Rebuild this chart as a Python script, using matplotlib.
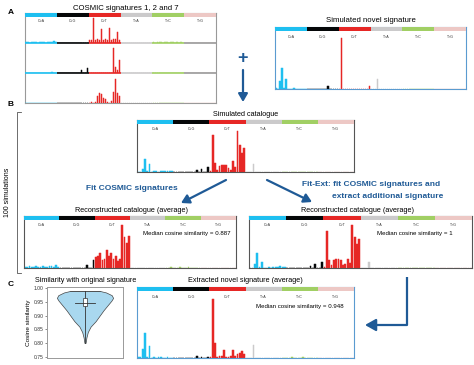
import numpy as np
import matplotlib
matplotlib.use("Agg")
import matplotlib.pyplot as plt
from matplotlib.patches import Rectangle
import matplotlib.transforms as mtrans

plt.rcParams['font.family'] = ['Liberation Sans', 'DejaVu Sans']

# ---------------- data ----------------
groups = ["C>A", "C>G", "C>T", "T>A", "T>C", "T>G"]
group_colors = ["#1EBFF0", "#050708", "#E62725", "#CBCACB", "#A1CF64", "#EDC8C5"]

sig1 = [0.04, 0.03, 0.02, 0.03, 0.03, 0.03, 0.02, 0.03, 0.03, 0.03, 0.02, 0.03, 0.04, 0.04, 0.08, 0.05,
        0.01, 0.01, 0.01, 0.01, 0.01, 0.01, 0.01, 0.01, 0.01, 0.01, 0.01, 0.01, 0.01, 0.01, 0.01, 0.01,
        0.14, 0.12, 1.00, 0.13, 0.15, 0.12, 0.55, 0.14, 0.15, 0.13, 0.60, 0.14, 0.16, 0.15, 0.45, 0.14,
        0.01, 0.01, 0.01, 0.01, 0.01, 0.01, 0.01, 0.01, 0.01, 0.01, 0.01, 0.01, 0.01, 0.01, 0.01, 0.01,
        0.03, 0.02, 0.04, 0.03, 0.03, 0.02, 0.04, 0.03, 0.02, 0.03, 0.03, 0.02, 0.03, 0.02, 0.03, 0.02,
        0.01, 0.01, 0.01, 0.01, 0.01, 0.01, 0.01, 0.01, 0.01, 0.01, 0.01, 0.01, 0.01, 0.01, 0.01, 0.01]

sig2 = [0.01, 0.01, 0.01, 0.01, 0.01, 0.01, 0.01, 0.01, 0.01, 0.01, 0.01, 0.01, 0.01, 0.03, 0.01, 0.01,
        0.00, 0.00, 0.00, 0.00, 0.00, 0.00, 0.00, 0.00, 0.00, 0.00, 0.00, 0.00, 0.14, 0.01, 0.01, 0.19,
        0.02, 0.01, 0.01, 0.01, 0.01, 0.01, 0.01, 0.01, 0.01, 0.01, 0.01, 0.01, 1.00, 0.23, 0.13, 0.53,
        0.00, 0.00, 0.00, 0.00, 0.00, 0.00, 0.00, 0.00, 0.00, 0.00, 0.00, 0.00, 0.00, 0.00, 0.00, 0.00,
        0.00, 0.00, 0.00, 0.00, 0.00, 0.00, 0.00, 0.00, 0.00, 0.00, 0.00, 0.00, 0.00, 0.00, 0.00, 0.00,
        0.00, 0.00, 0.00, 0.00, 0.00, 0.00, 0.00, 0.00, 0.00, 0.00, 0.00, 0.00, 0.00, 0.00, 0.00, 0.00]

sig7 = [0.00, 0.00, 0.00, 0.00, 0.00, 0.00, 0.00, 0.00, 0.00, 0.00, 0.00, 0.00, 0.00, 0.00, 0.00, 0.00,
        0.00, 0.00, 0.00, 0.00, 0.00, 0.00, 0.00, 0.00, 0.00, 0.00, 0.00, 0.00, 0.00, 0.00, 0.00, 0.00,
        0.00, 0.06, 0.02, 0.03, 0.30, 0.40, 0.37, 0.20, 0.18, 0.04, 0.02, 0.10, 0.45, 1.00, 0.40, 0.28,
        0.00, 0.00, 0.00, 0.00, 0.00, 0.00, 0.00, 0.00, 0.00, 0.00, 0.00, 0.00, 0.00, 0.00, 0.00, 0.00,
        0.00, 0.00, 0.00, 0.00, 0.00, 0.00, 0.00, 0.00, 0.00, 0.00, 0.00, 0.00, 0.00, 0.00, 0.00, 0.00,
        0.00, 0.00, 0.00, 0.00, 0.00, 0.00, 0.00, 0.00, 0.00, 0.00, 0.00, 0.00, 0.00, 0.00, 0.00, 0.00]

novel_sig = [0.01, 0.00, 0.16, 0.42, 0.01, 0.20, 0.00, 0.00, 0.00, 0.01, 0.00, 0.00, 0.00, 0.00, 0.00, 0.00,
             0.00, 0.00, 0.00, 0.00, 0.00, 0.00, 0.00, 0.00, 0.00, 0.00, 0.05, 0.00, 0.00, 0.00, 0.00, 0.00,
             0.00, 1.00, 0.00, 0.00, 0.00, 0.00, 0.00, 0.00, 0.00, 0.00, 0.00, 0.00, 0.00, 0.00, 0.00, 0.06,
             0.00, 0.00, 0.00, 0.20, 0.00, 0.00, 0.00, 0.00, 0.00, 0.00, 0.00, 0.00, 0.00, 0.00, 0.00, 0.00,
             0.00, 0.00, 0.00, 0.00, 0.00, 0.00, 0.00, 0.00, 0.00, 0.00, 0.00, 0.00, 0.00, 0.00, 0.00, 0.00,
             0.00, 0.00, 0.00, 0.00, 0.00, 0.00, 0.00, 0.00, 0.00, 0.00, 0.00, 0.00, 0.00, 0.00, 0.00, 0.00]

simulated = [0.01, 0.01, 0.08, 0.33, 0.02, 0.20, 0.01, 0.02, 0.02, 0.01, 0.02, 0.03, 0.02, 0.03, 0.03, 0.02,
             0.00, 0.00, 0.00, 0.00, 0.00, 0.00, 0.00, 0.00, 0.00, 0.01, 0.04, 0.00, 0.08, 0.01, 0.00, 0.12,
             0.03, 0.92, 0.23, 0.05, 0.15, 0.18, 0.17, 0.17, 0.10, 0.06, 0.27, 0.12, 1.00, 0.67, 0.48, 0.58,
             0.01, 0.00, 0.01, 0.19, 0.00, 0.01, 0.00, 0.00, 0.01, 0.00, 0.00, 0.01, 0.00, 0.00, 0.01, 0.00,
             0.01, 0.01, 0.01, 0.01, 0.01, 0.01, 0.01, 0.01, 0.01, 0.01, 0.01, 0.01, 0.01, 0.01, 0.01, 0.01,
             0.00, 0.00, 0.00, 0.00, 0.00, 0.00, 0.00, 0.00, 0.00, 0.00, 0.00, 0.00, 0.00, 0.00, 0.00, 0.00]

recon_fit = [0.03, 0.02, 0.04, 0.03, 0.02, 0.05, 0.03, 0.02, 0.04, 0.03, 0.02, 0.05, 0.04, 0.03, 0.06, 0.03,
             0.01, 0.01, 0.01, 0.01, 0.01, 0.01, 0.01, 0.01, 0.01, 0.01, 0.01, 0.01, 0.08, 0.01, 0.01, 0.18,
             0.26, 0.27, 0.34, 0.19, 0.20, 0.42, 0.28, 0.35, 0.20, 0.28, 0.16, 0.22, 1.00, 0.72, 0.58, 0.74,
             0.01, 0.01, 0.01, 0.01, 0.01, 0.01, 0.01, 0.01, 0.01, 0.01, 0.01, 0.01, 0.01, 0.01, 0.01, 0.01,
             0.01, 0.01, 0.02, 0.01, 0.01, 0.01, 0.02, 0.01, 0.01, 0.01, 0.02, 0.01, 0.01, 0.01, 0.01, 0.01,
             0.00, 0.00, 0.00, 0.00, 0.00, 0.00, 0.00, 0.00, 0.00, 0.00, 0.00, 0.00, 0.00, 0.00, 0.00, 0.00]

recon_fitext = [0.01, 0.01, 0.10, 0.35, 0.02, 0.15, 0.01, 0.01, 0.02, 0.01, 0.02, 0.03, 0.02, 0.04, 0.02, 0.03,
                0.00, 0.00, 0.00, 0.00, 0.00, 0.00, 0.00, 0.00, 0.00, 0.01, 0.04, 0.00, 0.09, 0.01, 0.00, 0.13,
                0.03, 0.86, 0.18, 0.06, 0.18, 0.20, 0.20, 0.19, 0.08, 0.10, 0.20, 0.12, 1.00, 0.72, 0.57, 0.68,
                0.01, 0.00, 0.01, 0.14, 0.00, 0.01, 0.00, 0.00, 0.01, 0.00, 0.00, 0.01, 0.00, 0.00, 0.01, 0.00,
                0.01, 0.01, 0.01, 0.01, 0.01, 0.01, 0.01, 0.01, 0.01, 0.01, 0.01, 0.01, 0.01, 0.01, 0.01, 0.01,
                0.00, 0.00, 0.00, 0.00, 0.00, 0.00, 0.00, 0.00, 0.00, 0.00, 0.00, 0.00, 0.00, 0.00, 0.00, 0.00]

extracted = [0.01, 0.01, 0.155, 0.43, 0.01, 0.20, 0.00, 0.01, 0.00, 0.01, 0.01, 0.00, 0.00, 0.01, 0.00, 0.00,
             0.00, 0.00, 0.00, 0.00, 0.00, 0.00, 0.00, 0.00, 0.00, 0.00, 0.03, 0.00, 0.01, 0.00, 0.00, 0.01,
             0.02, 1.00, 0.26, 0.02, 0.03, 0.03, 0.14, 0.02, 0.02, 0.03, 0.14, 0.03, 0.06, 0.09, 0.12, 0.07,
             0.00, 0.00, 0.00, 0.22, 0.00, 0.00, 0.00, 0.00, 0.00, 0.00, 0.00, 0.00, 0.00, 0.00, 0.00, 0.00,
             0.00, 0.00, 0.00, 0.00, 0.01, 0.00, 0.00, 0.00, 0.00, 0.01, 0.00, 0.00, 0.00, 0.00, 0.00, 0.00,
             0.00, 0.00, 0.00, 0.00, 0.00, 0.00, 0.00, 0.00, 0.00, 0.00, 0.00, 0.00, 0.00, 0.00, 0.00, 0.00]

# violin outline (cosine similarity, relative half-width)
violin_y = [0.800, 0.820, 0.840, 0.860, 0.880, 0.900, 0.920, 0.940, 0.955, 0.965, 0.975, 0.985, 0.990]
violin_w = [0.02, 0.05, 0.10, 0.20, 0.38, 0.52, 0.66, 0.82, 0.94, 1.00, 0.95, 0.75, 0.55]
box_stats = {"whislo": 0.800, "q1": 0.935, "med": 0.948, "q3": 0.966, "whishi": 0.990}
violin_ticks = [0.75, 0.80, 0.85, 0.90, 0.95, 1.00]

median_fit = "0.887"
median_fitext = "1"
median_extracted = "0.948"

# ---------------- layout helpers ----------------
W, H = 474, 365
fig = plt.figure(figsize=(W / 100, H / 100), dpi=100)
ov = fig.add_axes([0, 0, 1, 1])
ov.set_xlim(0, W)
ov.set_ylim(H, 0)
ov.axis("off")

ARROW = "#1F5A96"
BLUE_FRAME = "#5A9BD0"


def px_axes(x0, y0, x1, y1):
    return fig.add_axes([x0 / W, 1 - y1 / H, (x1 - x0) / W, (y1 - y0) / H])


bar_colors = [c for c in group_colors for _ in range(16)]


def draw_bars(ax, vals):
    ax.bar(np.arange(96), vals, width=0.8, color=bar_colors, edgecolor=bar_colors, lw=0.35)


def header(ax, bar_h=0.07, lab_y=None, lab_fs=2.6):
    tr = mtrans.blended_transform_factory(ax.transData, ax.transAxes)
    for g, (name, col) in enumerate(zip(groups, group_colors)):
        ax.add_patch(Rectangle((16 * g - 0.5, 1 - bar_h), 16, bar_h, transform=tr,
                               color=col, lw=0, clip_on=False, zorder=5))
        ax.text(16 * g + 7.5, lab_y if lab_y is not None else 1 - bar_h - 0.06, name,
                transform=tr, ha="center", va="top", fontsize=lab_fs, color="#333333")


def frame(ax, col, lw=0.8):
    for s in ax.spines.values():
        s.set_color(col)
        s.set_linewidth(lw)
    ax.set_xticks([])
    ax.set_yticks([])


def sig_panel(ax, vals, peak_frac, frame_col, bar_h=0.07):
    draw_bars(ax, vals)
    ax.set_xlim(-0.5, 95.5)
    ax.set_ylim(0, max(vals) / peak_frac)
    frame(ax, frame_col)
    header(ax, bar_h=bar_h)


# ---------------- Panel A ----------------
axA = px_axes(25, 13, 216, 103)
axA.set_xlim(-0.5, 95.5)
axA.set_ylim(0, 1)
frame(axA, "#999999")
header(axA, bar_h=0.04, lab_y=0.93)

rows = [(sig1, 13, 43, 0.83, True), (sig2, 43, 73, 0.82, True), (sig7, 73, 103, 0.80, False)]
for vals, y0, y1, pf, base in rows:
    a = px_axes(25, y0, 216, y1)
    a.patch.set_alpha(0)
    draw_bars(a, vals)
    a.set_xlim(-0.5, 95.5)
    a.set_ylim(0, max(vals) / pf)
    a.axis("off")
    if base:
        for g, col in enumerate(group_colors):
            a.plot([16 * g - 0.5, 16 * g + 15.5], [0, 0], color=col if col != "#EDC8C5" else "#999999",
                   lw=1.2, solid_capstyle="butt", clip_on=False)

ov.text(8, 12, "A", fontsize=6, fontweight="bold", ha="left", va="center")
ov.text(126, 8, "COSMIC signatures 1, 2 and 7", fontsize=5.6, ha="center", va="center")

# novel signature
axN = px_axes(275, 27, 466, 89)
sig_panel(axN, novel_sig, 0.82, BLUE_FRAME)
ov.text(371, 21, "Simulated novel signature", fontsize=5.6, ha="center", va="center")

# plus and down arrow
ov.text(243, 58, "+", fontsize=13, fontweight="bold", color=ARROW, ha="center", va="center")
ov.annotate("", xy=(243, 102), xytext=(243, 70),
            arrowprops=dict(arrowstyle="-|>,head_width=0.35,head_length=0.6", lw=1.6,
                            color=ARROW, mutation_scale=8, shrinkA=0, shrinkB=0))

# ---------------- Panel B ----------------
ov.text(8, 104, "B", fontsize=6, fontweight="bold", ha="left", va="center")
ov.plot([21, 17, 17, 21], [112, 112, 273, 273], color="#555555", lw=0.6)
ov.text(8, 192, "100 simulations", fontsize=5, rotation=90, ha="center", va="center")

axS = px_axes(137, 120, 354, 172)
sig_panel(axS, simulated, 0.78, "#555555")
ov.text(246, 114, "Simulated catalogue", fontsize=5.2, ha="center", va="center")

ov.annotate("", xy=(181, 203), xytext=(226, 180),
            arrowprops=dict(arrowstyle="-|>,head_width=0.35,head_length=0.6", lw=1.6,
                            color=ARROW, mutation_scale=8, shrinkA=0, shrinkB=0))
ov.annotate("", xy=(312, 202), xytext=(267, 180),
            arrowprops=dict(arrowstyle="-|>,head_width=0.35,head_length=0.6", lw=1.6,
                            color=ARROW, mutation_scale=8, shrinkA=0, shrinkB=0))
ov.text(132, 189, "Fit COSMIC signatures", fontsize=6, fontweight="bold", color=ARROW,
        ha="center", va="center")
ov.text(371, 185, "Fit-Ext: fit COSMIC signatures and", fontsize=6, fontweight="bold",
        color=ARROW, ha="center", va="center")
ov.text(443, 196, "extract additional signature", fontsize=6, fontweight="bold",
        color=ARROW, ha="right", va="center")

axL = px_axes(24, 216, 236, 268)
sig_panel(axL, recon_fit, 0.83, "#555555")
axL.text(0.77, 0.66, "Median cosine similarity = " + median_fit, transform=axL.transAxes,
         fontsize=4.4, ha="center", va="center")
ov.text(132, 210, "Reconstructed catalogue (average)", fontsize=5.2, ha="center", va="center")

axR = px_axes(249, 216, 472, 268)
sig_panel(axR, recon_fitext, 0.82, "#555555")
axR.text(0.745, 0.66, "Median cosine similarity = " + median_fitext, transform=axR.transAxes,
         fontsize=4.4, ha="center", va="center")
ov.text(358, 210, "Reconstructed catalogue (average)", fontsize=5.2, ha="center", va="center")

# elbow arrow
ov.plot([407, 407, 374], [277, 325, 325], color=ARROW, lw=1.6, solid_capstyle="butt")
ov.annotate("", xy=(365, 325), xytext=(376, 325),
            arrowprops=dict(arrowstyle="-|>,head_width=0.45,head_length=0.8", lw=1.6,
                            color=ARROW, mutation_scale=8, shrinkA=0, shrinkB=0))

# ---------------- Panel C ----------------
ov.text(8, 284, "C", fontsize=6, fontweight="bold", ha="left", va="center")
ov.text(86, 281, "Similarity with original signature", fontsize=5.2, ha="center", va="center")
ov.text(245, 281, "Extracted novel signature (average)", fontsize=5.2, ha="center", va="center")

axV = px_axes(47, 287, 123, 358)
vy = np.array(violin_y)
vw = np.array(violin_w) * 0.37
axV.fill_betweenx(vy, 1 - vw, 1 + vw, color="#A9D8EF", edgecolor="#444444", lw=0.5, zorder=2)
axV.plot([1 - vw[-1], 1 + vw[-1]], [vy[-1], vy[-1]], color="#444444", lw=0.5, zorder=2)
axV.plot([1, 1], [box_stats["whislo"], box_stats["whishi"]], color="#333333", lw=0.6, zorder=3)
axV.add_patch(Rectangle((1 - 0.025, box_stats["q1"]), 0.05, box_stats["q3"] - box_stats["q1"],
                        facecolor="white", edgecolor="#333333", lw=0.5, zorder=4))
axV.plot([1 - 0.13, 1 + 0.13], [box_stats["med"], box_stats["med"]], color="#333333", lw=0.6, zorder=5)
axV.set_xlim(0.5, 1.5)
axV.set_ylim(0.745, 1.005)
axV.axhspan(1.0, 1.005, color="#DDDDDD", lw=0, zorder=1)
axV.set_xticks([])
axV.set_yticks(violin_ticks)
axV.set_yticklabels([f"{t:.2f}" for t in violin_ticks], fontsize=3.6)
axV.tick_params(axis="y", length=1.5, width=0.4, pad=1, colors="#333333")
axV.set_ylabel("Cosine similarity", fontsize=4.6, labelpad=2)
for s in axV.spines.values():
    s.set_color("#999999")
    s.set_linewidth(0.7)

axE = px_axes(137, 287, 354, 358)
sig_panel(axE, extracted, 0.83, BLUE_FRAME, bar_h=0.05)
axE.text(0.75, 0.72, "Median cosine similarity = " + median_extracted, transform=axE.transAxes,
         fontsize=4.4, ha="center", va="center")

fig.savefig("out.png", dpi=100)
